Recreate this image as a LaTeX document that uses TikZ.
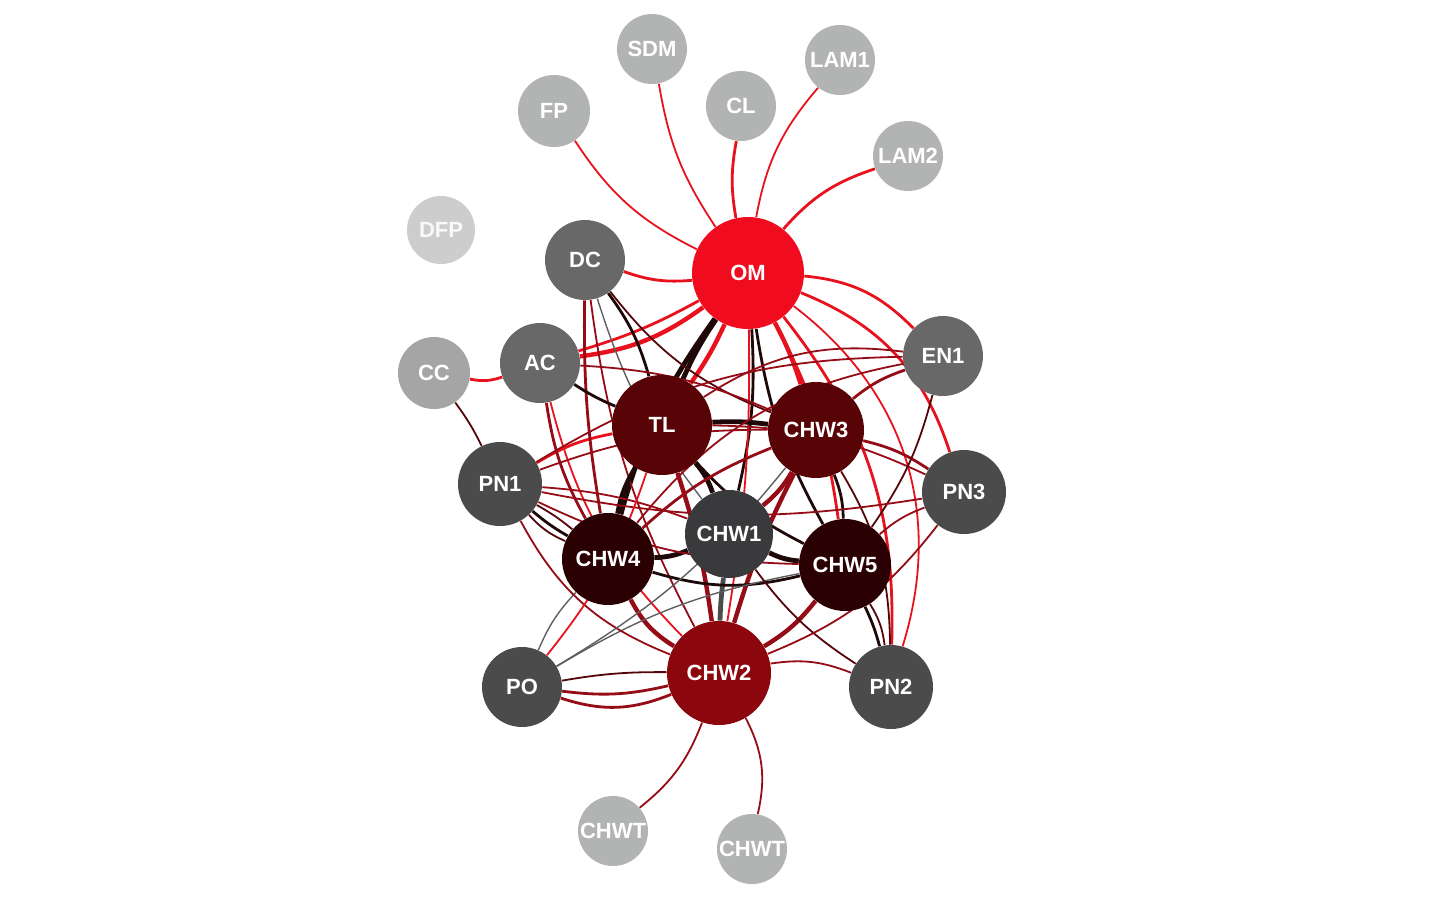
\documentclass[tikz,border=0pt]{standalone}
\usepackage{fontspec}
\setmainfont{Liberation Sans}
\pgfdeclarelayer{bg}
\pgfdeclarelayer{edges}
\pgfsetlayers{bg,edges,main}
\definecolor{cOM}{RGB}{240,12,30}
\definecolor{cCHWtwo}{RGB}{140,6,14}
\definecolor{cTL}{RGB}{88,3,5}
\definecolor{cCHWdark}{RGB}{42,0,2}
\definecolor{cCHWone}{RGB}{58,58,60}
\definecolor{cPN}{RGB}{75,75,75}
\definecolor{cMid}{RGB}{104,104,104}
\definecolor{cCC}{RGB}{165,165,165}
\definecolor{cLight}{RGB}{178,179,179}
\definecolor{cDFP}{RGB}{205,205,205}
\definecolor{ered}{RGB}{232,18,30}
\definecolor{edred}{RGB}{150,12,22}
\definecolor{edark}{RGB}{85,6,10}
\definecolor{eblk}{RGB}{30,8,8}
\definecolor{egray}{RGB}{95,95,95}
\tikzset{
  nd/.style={circle,inner sep=0pt,text=white,font=\bfseries\fontsize{11}{13}\selectfont},
  r1/.style={draw=ered,line width=0.9pt},
  r2/.style={draw=ered,line width=1.4pt},
  r3/.style={draw=ered,line width=2.2pt},
  d1/.style={draw=edred,line width=0.9pt},
  d2/.style={draw=edred,line width=1.4pt},
  d3/.style={draw=edred,line width=2.2pt},
  k1/.style={draw=edark,line width=0.9pt},
  k2/.style={draw=eblk,line width=1.4pt},
  k3/.style={draw=eblk,line width=2.4pt},
  g1/.style={draw=egray,line width=0.7pt},
  g3/.style={draw=egray!80!black,line width=2.4pt},
}
\begin{document}
\begin{tikzpicture}[x=0.5pt,y=0.5pt]
\begin{pgfonlayer}{bg}
\fill[white] (0,0) rectangle (1442,-906);
\end{pgfonlayer}
\useasboundingbox (0,0) rectangle (1442,-906);
% nodes
\node[nd,fill=cLight,minimum size=35pt] (SDM) at (652,-49) {SDM};
\node[nd,fill=cLight,minimum size=36pt] (FP) at (554,-111) {FP};
\node[nd,fill=cLight,minimum size=35pt] (CL) at (741,-106) {CL};
\node[nd,fill=cLight,minimum size=35pt] (LAM1) at (840,-60) {LAM1};
\node[nd,fill=cLight,minimum size=35pt] (LAM2) at (908,-156) {LAM2};
\node[nd,fill=cDFP,minimum size=34pt,text=white!95!gray] (DFP) at (441,-230) {DFP};
\node[nd,fill=cMid,minimum size=40pt] (DC) at (585,-260) {DC};
\node[nd,fill=cOM,minimum size=56pt] (OM) at (748,-273) {OM};
\node[nd,fill=cMid,minimum size=40pt] (EN1) at (943,-356) {EN1};
\node[nd,fill=cCC,minimum size=36pt] (CC) at (434,-373) {CC};
\node[nd,fill=cMid,minimum size=40pt] (AC) at (540,-363) {AC};
\node[nd,fill=cTL,minimum size=50pt] (TL) at (662,-425) {TL};
\node[nd,fill=cTL,minimum size=48pt] (CHW3) at (816,-430) {CHW3};
\node[nd,fill=cPN,minimum size=42pt] (PN1) at (500,-484) {PN1};
\node[nd,fill=cPN,minimum size=42pt] (PN3) at (964,-492) {PN3};
\node[nd,fill=cCHWone,minimum size=44pt] (CHW1) at (729,-534) {CHW1};
\node[nd,fill=cCHWdark,minimum size=46pt] (CHW4) at (608,-559) {CHW4};
\node[nd,fill=cCHWdark,minimum size=46pt] (CHW5) at (845,-565) {CHW5};
\node[nd,fill=cCHWtwo,minimum size=52pt] (CHW2) at (719,-673) {CHW2};
\node[nd,fill=cPN,minimum size=40pt] (PO) at (522,-687) {PO};
\node[nd,fill=cPN,minimum size=42pt] (PN2) at (891,-687) {PN2};
\node[nd,fill=cLight,minimum size=35pt] (CHWTa) at (613,-831) {CHWT};
\node[nd,fill=cLight,minimum size=35pt] (CHWTb) at (752,-849) {CHWT};
% edges
\begin{pgfonlayer}{edges}
\draw[r1] (FP) to[bend right=15] (OM);
\draw[r1] (SDM) to[bend right=12] (OM);
\draw[r2] (CL) to[bend right=10] (OM);
\draw[r1] (LAM1) to[bend right=15] (OM);
\draw[r2] (LAM2) to[bend right=15] (OM);
\draw[r2] (DC) to[bend right=12] (OM);
\draw[r2] (CC) to[bend right=15] (AC);
\draw[k1] (CC) to[bend left=5] (PN1);
\draw[d1] (CHW2) to[bend left=15] (CHWTa);
\draw[d1] (CHW2) to[bend left=20] (CHWTb);
\draw[r2] (OM) to[bend left=20] (EN1);
\draw[r2] (OM) to[bend left=25] (PN3);
\draw[r2] (OM) to[bend left=20] (PN2);
\draw[r1] (OM) to[bend left=35] (PN2);
\draw[r3] (OM) to[bend left=5] (CHW3);
\draw[k3] (OM) to[bend right=5] (TL);
\draw[r3] (OM) to[bend left=5] (TL);
\draw[k3] (OM) to[bend right=10] (CHW4);
\draw[k2] (OM) to[bend left=8] (CHW1);
\draw[r1] (OM) to[bend left=5] (CHW2);
\draw[k2] (OM) to[bend right=10] (CHW5);
\draw[r2] (OM) to[bend left=10] (CHW5);
\draw[r2] (AC) to[bend right=6] (OM);
\draw[r3] (AC) to[bend right=14] (OM);
\draw[r2] (PN1) to[bend left=10] (TL);
\draw[k2] (DC) to[bend left=10] (TL);
\draw[d2] (DC) to[bend right=5] (CHW4);
\draw[g1] (DC) to[bend right=10] (CHW1);
\draw[k1] (DC) to[bend right=15] (CHW3);
\draw[d1] (DC) to[bend right=10] (CHW2);
\draw[k2] (AC) to[bend right=5] (TL);
\draw[d2] (AC) to[bend right=10] (CHW4);
\draw[r1] (AC) to[bend right=15] (CHW2);
\draw[d1] (AC) to[bend left=10] (CHW3);
\draw[k3] (TL) to[bend left=5] (CHW3);
\draw[k3] (TL) to[bend right=10] (CHW4);
\draw[k3] (TL) to[bend left=10] (CHW1);
\draw[k2] (TL) to[bend right=10] (CHW5);
\draw[d3] (TL) to[bend left=5] (CHW2);
\draw[d1] (TL) to[bend left=20] (EN1);
\draw[d1] (TL) to[bend left=12] (PN3);
\draw[d3] (CHW3) to[bend left=10] (CHW1);
\draw[k2] (CHW3) to[bend left=10] (CHW5);
\draw[d2] (CHW3) to[bend right=10] (CHW4);
\draw[d3] (CHW3) to[bend right=5] (CHW2);
\draw[d2] (CHW3) to[bend left=10] (EN1);
\draw[d2] (CHW3) to[bend left=10] (PN3);
\draw[k1] (CHW3) to[bend left=15] (PN2);
\draw[d1] (CHW3) to[bend right=10] (PN1);
\draw[k3] (CHW1) to[bend left=10] (CHW4);
\draw[k3] (CHW1) to[bend right=10] (CHW5);
\draw[g3] (CHW1) to[bend right=3] (CHW2);
\draw[d1] (CHW1) to[bend right=8] (PN1);
\draw[k2] (CHW4) to[bend left=5] (PN1);
\draw[k1] (CHW4) to[bend left=12] (PN1);
\draw[k1] (CHW4) to[bend right=5] (PN1);
\draw[k2] (CHW4) to[bend right=15] (CHW5);
\draw[d3] (CHW4) to[bend right=15] (CHW2);
\draw[g1] (CHW4) to[bend right=10] (PO);
\draw[k2] (CHW5) to[bend left=5] (PN2);
\draw[k1] (CHW5) to[bend left=12] (PN2);
\draw[d3] (CHW5) to[bend left=10] (CHW2);
\draw[d1] (CHW5) to[bend left=10] (PN3);
\draw[k1] (CHW5) to[bend right=10] (EN1);
\draw[g1] (CHW5) to[bend right=10] (PO);
\draw[d1] (CHW2) to[bend left=15] (PN2);
\draw[d2] (CHW2) to[bend left=10] (PO);
\draw[k1] (CHW2) to[bend right=5] (PO);
\draw[d2] (CHW2) to[bend left=20] (PO);
\draw[d1] (CHW2) to[bend left=20] (PN1);
\draw[d1] (PN1) to[bend left=15] (EN1);
\draw[d1] (PN1) to[bend right=10] (PN3);
\draw[r1] (PO) to[bend right=10] (TL);
\draw[g1] (PO) to[bend right=10] (CHW3);
\draw[d1] (PN1) to[bend right=12] (CHW5);
\draw[d1] (CHW4) to[bend left=20] (EN1);
\draw[k1] (PN2) to[bend left=10] (CHW1);
\draw[d1] (CHW2) to[bend right=15] (PN3);
\end{pgfonlayer}
\end{tikzpicture}
\end{document}
